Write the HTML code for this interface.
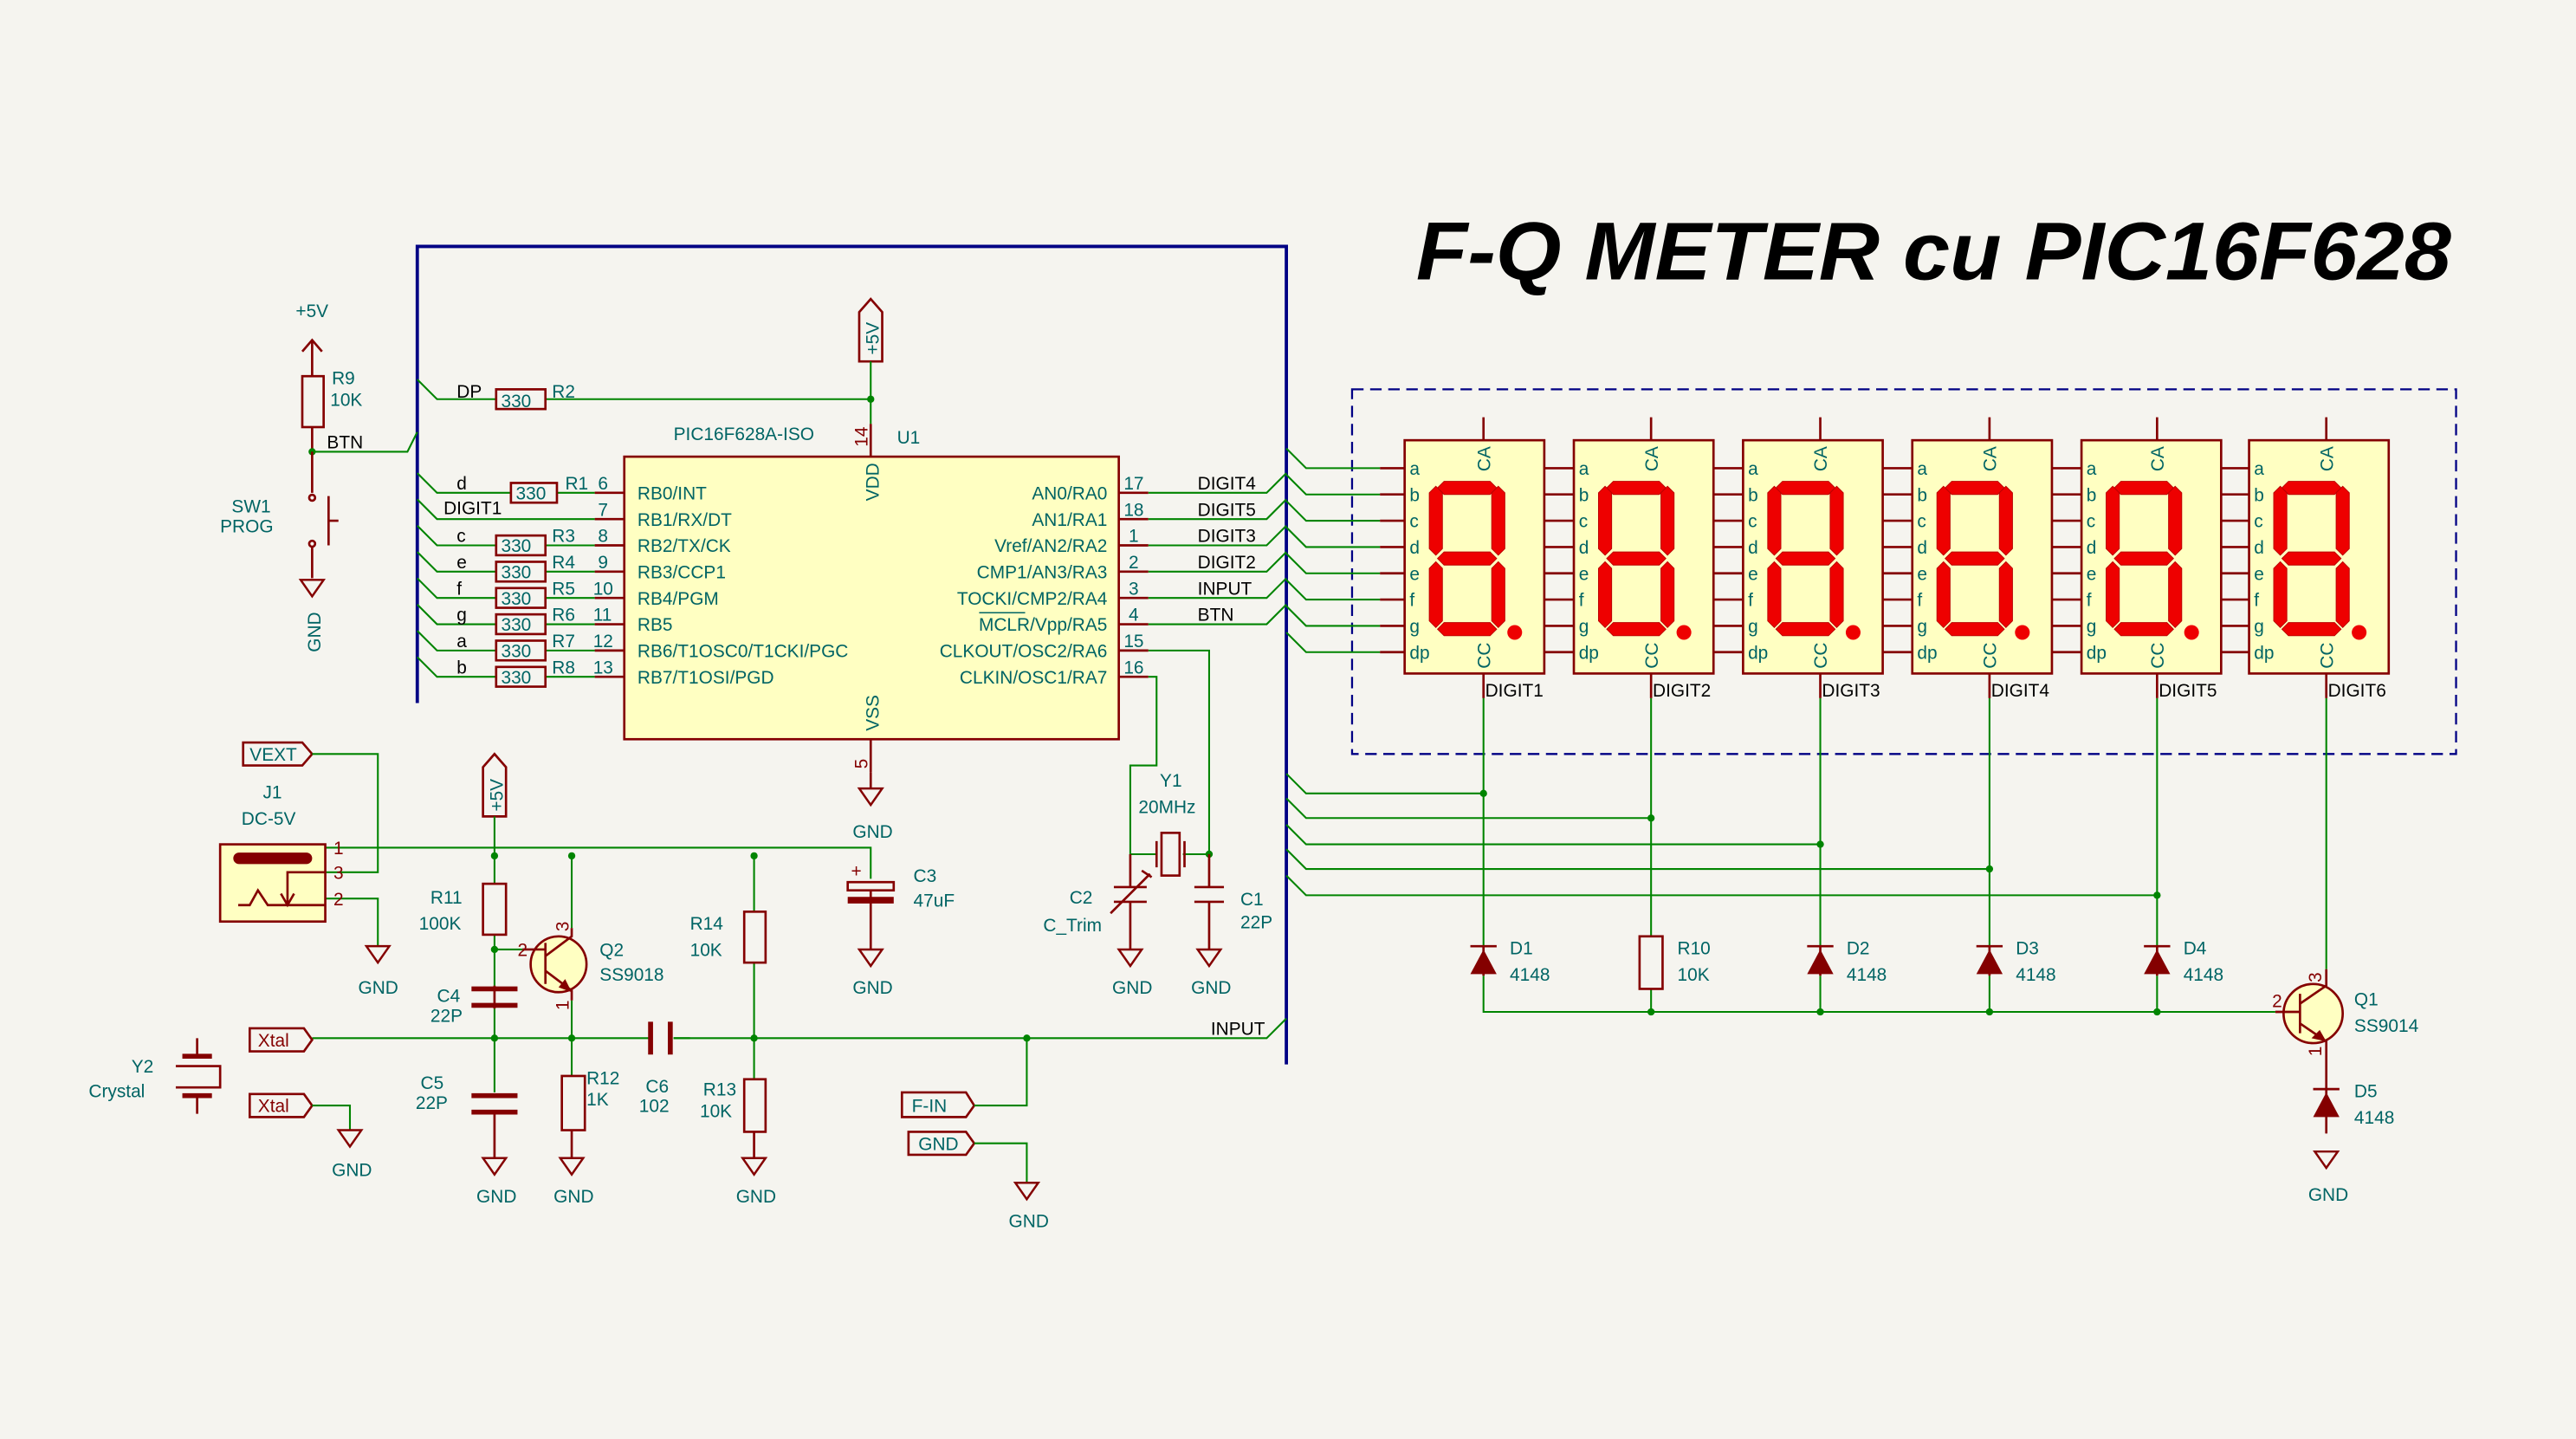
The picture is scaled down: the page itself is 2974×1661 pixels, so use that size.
<!DOCTYPE html>
<html><head><meta charset="utf-8"><style>
html,body{margin:0;padding:0;background:#f5f4ef}
svg{display:block}
text{font-family:"Liberation Sans",sans-serif;font-size:11px;fill:#006464}
.w{stroke:#008400;stroke-width:1.1;fill:none}
.c{stroke:#840000;stroke-width:1.4;fill:none}
.f{stroke:#840000;stroke-width:1.4;fill:#ffffc2}
.r{fill:#840000}
.pn{fill:#840000;font-size:11px}
.j{fill:#008400}
</style></head><body>
<svg width="2974" height="1661" viewBox="0 0 1568 876" preserveAspectRatio="none" xmlns="http://www.w3.org/2000/svg">
<rect width="1568" height="876" fill="#f5f4ef"/>
<defs>
<g id="seg">
<polygon points="20,25 48,25 52,29 48,33 20,33 16,29" fill="#e00" stroke="#b00" stroke-width=".5"/>
<polygon points="20,68 48,68 52,72 48,76 20,76 16,72" fill="#e00" stroke="#b00" stroke-width=".5"/>
<polygon points="20,111 48,111 52,115 48,119 20,119 16,115" fill="#e00" stroke="#b00" stroke-width=".5"/>
<polygon points="11,32 15,28 19,32 19,66 15,70 11,66" fill="#e00" stroke="#b00" stroke-width=".5"/>
<polygon points="49,32 53,28 57,32 57,66 53,70 49,66" fill="#e00" stroke="#b00" stroke-width=".5"/>
<polygon points="11,78 15,74 19,78 19,110 15,114 11,110" fill="#e00" stroke="#b00" stroke-width=".5"/>
<polygon points="49,78 53,74 57,78 57,110 53,114 49,110" fill="#e00" stroke="#b00" stroke-width=".5"/>
<circle cx="63" cy="117" r="4.5" fill="#e00"/>
</g>
<g id="gnd"><polygon points="-7,0 7,0 0,10" fill="none" stroke="#840000" stroke-width="1.3"/></g>
</defs>

<text x="862" y="170" style="font-size:50px;font-weight:bold;font-style:italic;fill:#000" textLength="630" lengthAdjust="spacingAndGlyphs">F-Q METER cu PIC16F628</text>

<path d="M254,428 V150 H783 V648" stroke="#000084" stroke-width="2" fill="none"/>
<rect x="823" y="237" width="672" height="222" fill="none" stroke="#000084" stroke-width="1.2" stroke-dasharray="7,4"/>

<rect x="380" y="278" width="301" height="172" class="f"/>
<path class="c" d="M530,278V258 M530,450V470 M362,300H380 M362,316H380 M362,332H380 M362,348H380 M362,364H380 M362,380H380 M362,396H380 M362,412H380 M681,300H699 M681,316H699 M681,332H699 M681,348H699 M681,364H699 M681,380H699 M681,396H699 M681,412H699"/>
<text x="410" y="268">PIC16F628A-ISO</text><text x="546" y="270">U1</text>
<text class="pn" transform="translate(528,272) rotate(-90)">14</text>
<text class="pn" transform="translate(528,468) rotate(-90)">5</text>
<text transform="translate(535,305) rotate(-90)">VDD</text>
<text transform="translate(535,445) rotate(-90)">VSS</text>
<g>
<text x="388" y="304">RB0/INT</text><text x="388" y="320">RB1/RX/DT</text><text x="388" y="336">RB2/TX/CK</text><text x="388" y="352">RB3/CCP1</text><text x="388" y="368">RB4/PGM</text><text x="388" y="384">RB5</text><text x="388" y="400">RB6/T1OSC0/T1CKI/PGC</text><text x="388" y="416">RB7/T1OSI/PGD</text>
</g>
<g text-anchor="end">
<text x="674" y="304">AN0/RA0</text><text x="674" y="320">AN1/RA1</text><text x="674" y="336">Vref/AN2/RA2</text><text x="674" y="352">CMP1/AN3/RA3</text><text x="674" y="368">TOCKI/CMP2/RA4</text><text x="674" y="384">MCLR/Vpp/RA5</text><text x="674" y="400">CLKOUT/OSC2/RA6</text><text x="674" y="416">CLKIN/OSC1/RA7</text>
</g>
<path d="M596,373H624" stroke="#006464" stroke-width=".8"/>
<g class="pn">
<text x="364" y="298">6</text><text x="364" y="314">7</text><text x="364" y="330">8</text><text x="364" y="346">9</text><text x="361" y="362">10</text><text x="361" y="378">11</text><text x="361" y="394">12</text><text x="361" y="410">13</text>
<text x="684" y="298">17</text><text x="684" y="314">18</text><text x="687" y="330">1</text><text x="687" y="346">2</text><text x="687" y="362">3</text><text x="687" y="378">4</text><text x="684" y="394">15</text><text x="684" y="410">16</text>
</g>

<path class="w" d="M254,288L266,300H311 M339,300H362 M254,304L266,316H362 M254,320L266,332H302 M332,332H362 M254,336L266,348H302 M332,348H362 M254,352L266,364H302 M332,364H362 M254,368L266,380H302 M332,380H362 M254,384L266,396H302 M332,396H362 M254,400L266,412H302 M332,412H362 M254,231L266,243H302 M332,243H530 M530,243V258"/>
<circle cx="530" cy="243" r="2.2" class="j"/>
<g class="c">
<rect x="311" y="294" width="28" height="12"/><rect x="302" y="326" width="30" height="12"/><rect x="302" y="342" width="30" height="12"/><rect x="302" y="358" width="30" height="12"/><rect x="302" y="374" width="30" height="12"/><rect x="302" y="390" width="30" height="12"/><rect x="302" y="406" width="30" height="12"/><rect x="302" y="237" width="30" height="12"/>
</g>
<g>
<text x="314" y="304">330</text><text x="305" y="336">330</text><text x="305" y="352">330</text><text x="305" y="368">330</text><text x="305" y="384">330</text><text x="305" y="400">330</text><text x="305" y="416">330</text><text x="305" y="248">330</text>
<text x="344" y="298">R1</text><text x="336" y="330">R3</text><text x="336" y="346">R4</text><text x="336" y="362">R5</text><text x="336" y="378">R6</text><text x="336" y="394">R7</text><text x="336" y="410">R8</text><text x="336" y="242">R2</text>
</g>
<g>
<text x="278" y="298" style="fill:#000">d</text><text x="270" y="313" style="fill:#000">DIGIT1</text><text x="278" y="330" style="fill:#000">c</text><text x="278" y="346" style="fill:#000">e</text><text x="278" y="362" style="fill:#000">f</text><text x="278" y="378" style="fill:#000">g</text><text x="278" y="394" style="fill:#000">a</text><text x="278" y="410" style="fill:#000">b</text><text x="278" y="242" style="fill:#000">DP</text>
</g>
<path class="c" d="M523,220V190L530,182L537,190V220Z"/>
<text transform="translate(535,216) rotate(-90)">+5V</text>
<path class="w" d="M530,220V243"/>
<use href="#gnd" x="530" y="480"/><path class="c" d="M530,470V480"/><text x="519" y="510">GND</text>

<path class="w" d="M699,300H771L783,288 M699,316H771L783,304 M699,332H771L783,320 M699,348H771L783,336 M699,364H771L783,352 M699,380H771L783,368 M699,396H736V520 M699,412H704V466H688V520 M410,632H771L783,620"/>
<g><text x="729" y="298" style="fill:#000">DIGIT4</text><text x="729" y="314" style="fill:#000">DIGIT5</text><text x="729" y="330" style="fill:#000">DIGIT3</text><text x="729" y="346" style="fill:#000">DIGIT2</text><text x="729" y="362" style="fill:#000">INPUT</text><text x="729" y="378" style="fill:#000">BTN</text><text x="737" y="630" style="fill:#000">INPUT</text></g>

<path class="w" d="M688,520H704 M720,520H736"/>
<circle cx="736" cy="520" r="2.2" class="j"/>
<path class="c" d="M704,512V528 M721,512V528"/><rect x="707" y="507" width="11" height="26" class="c"/>
<text x="706" y="479">Y1</text><text x="693" y="495">20MHz</text>
<path class="c" d="M736,520V540 M727,540H745 M727,549H745 M736,549V578"/><use href="#gnd" x="736" y="578"/><text x="725" y="605">GND</text>
<text x="755" y="551">C1</text><text x="755" y="565">22P</text>
<path class="c" d="M688,520V540 M678,540H698 M678,549H698 M688,549V578 M676,556L700,532 M695,530L701,534"/><use href="#gnd" x="688" y="578"/><text x="677" y="605">GND</text>
<text x="651" y="550">C2</text><text x="635" y="567">C_Trim</text>

<path class="w" d="M783,273L795,285H840 M783,289L795,301H840 M783,305L795,317H840 M783,321L795,333H840 M783,337L795,349H840 M783,353L795,365H840 M783,369L795,381H840 M783,385L795,397H840"/>
<path class="c" d="M840,285H1369 M840,301H1369 M840,317H1369 M840,333H1369 M840,349H1369 M840,365H1369 M840,381H1369 M840,397H1369"/>
<g class="c">
<path d="M903,254V268 M1005,254V268 M1108,254V268 M1211,254V268 M1313,254V268 M1416,254V268 M903,410V425 M1005,410V425 M1108,410V425 M1211,410V425 M1313,410V425 M1416,410V425"/>
</g>
<g>
<rect x="855" y="268" width="85" height="142" class="f"/><use href="#seg" x="859" y="268"/>
<rect x="958" y="268" width="85" height="142" class="f"/><use href="#seg" x="962" y="268"/>
<rect x="1061" y="268" width="85" height="142" class="f"/><use href="#seg" x="1065" y="268"/>
<rect x="1164" y="268" width="85" height="142" class="f"/><use href="#seg" x="1168" y="268"/>
<rect x="1267" y="268" width="85" height="142" class="f"/><use href="#seg" x="1271" y="268"/>
<rect x="1369" y="268" width="85" height="142" class="f"/><use href="#seg" x="1373" y="268"/>
</g>
<g style="font-size:10px">
<text x="858" y="289">a</text><text x="858" y="305">b</text><text x="858" y="321">c</text><text x="858" y="337">d</text><text x="858" y="353">e</text><text x="858" y="369">f</text><text x="858" y="385">g</text><text x="858" y="401">dp</text>
<text x="961" y="289">a</text><text x="961" y="305">b</text><text x="961" y="321">c</text><text x="961" y="337">d</text><text x="961" y="353">e</text><text x="961" y="369">f</text><text x="961" y="385">g</text><text x="961" y="401">dp</text>
<text x="1064" y="289">a</text><text x="1064" y="305">b</text><text x="1064" y="321">c</text><text x="1064" y="337">d</text><text x="1064" y="353">e</text><text x="1064" y="369">f</text><text x="1064" y="385">g</text><text x="1064" y="401">dp</text>
<text x="1167" y="289">a</text><text x="1167" y="305">b</text><text x="1167" y="321">c</text><text x="1167" y="337">d</text><text x="1167" y="353">e</text><text x="1167" y="369">f</text><text x="1167" y="385">g</text><text x="1167" y="401">dp</text>
<text x="1270" y="289">a</text><text x="1270" y="305">b</text><text x="1270" y="321">c</text><text x="1270" y="337">d</text><text x="1270" y="353">e</text><text x="1270" y="369">f</text><text x="1270" y="385">g</text><text x="1270" y="401">dp</text>
<text x="1372" y="289">a</text><text x="1372" y="305">b</text><text x="1372" y="321">c</text><text x="1372" y="337">d</text><text x="1372" y="353">e</text><text x="1372" y="369">f</text><text x="1372" y="385">g</text><text x="1372" y="401">dp</text>
<text transform="translate(907,287) rotate(-90)">CA</text><text transform="translate(907,407) rotate(-90)">CC</text>
<text transform="translate(1009,287) rotate(-90)">CA</text><text transform="translate(1009,407) rotate(-90)">CC</text>
<text transform="translate(1112,287) rotate(-90)">CA</text><text transform="translate(1112,407) rotate(-90)">CC</text>
<text transform="translate(1215,287) rotate(-90)">CA</text><text transform="translate(1215,407) rotate(-90)">CC</text>
<text transform="translate(1317,287) rotate(-90)">CA</text><text transform="translate(1317,407) rotate(-90)">CC</text>
<text transform="translate(1420,287) rotate(-90)">CA</text><text transform="translate(1420,407) rotate(-90)">CC</text>
</g>
<g><text x="904" y="424" style="fill:#000">DIGIT1</text><text x="1006" y="424" style="fill:#000">DIGIT2</text><text x="1109" y="424" style="fill:#000">DIGIT3</text><text x="1212" y="424" style="fill:#000">DIGIT4</text><text x="1314" y="424" style="fill:#000">DIGIT5</text><text x="1417" y="424" style="fill:#000">DIGIT6</text></g>

<path class="w" d="M903,425V576 M1005,425V570 M1108,425V576 M1211,425V576 M1313,425V576 M1416,425V590 M783,471L795,483H903 M783,486L795,498H1005 M783,502L795,514H1108 M783,517L795,529H1211 M783,533L795,545H1313 M903,594V616H1385 M1005,602V616 M1108,594V616 M1211,594V616 M1313,594V616"/>
<g class="j"><circle cx="903" cy="483" r="2.2"/><circle cx="1005" cy="498" r="2.2"/><circle cx="1108" cy="514" r="2.2"/><circle cx="1211" cy="529" r="2.2"/><circle cx="1313" cy="545" r="2.2"/><circle cx="1005" cy="616" r="2.2"/><circle cx="1108" cy="616" r="2.2"/><circle cx="1211" cy="616" r="2.2"/><circle cx="1313" cy="616" r="2.2"/></g>
<g>
<path class="c" d="M903,576V594 M895,576H911"/><polygon points="895,593 911,593 903,578" class="r"/>
<path class="c" d="M1108,576V594 M1100,576H1116"/><polygon points="1100,593 1116,593 1108,578" class="r"/>
<path class="c" d="M1211,576V594 M1203,576H1219"/><polygon points="1203,593 1219,593 1211,578" class="r"/>
<path class="c" d="M1313,576V594 M1305,576H1321"/><polygon points="1305,593 1321,593 1313,578" class="r"/>
<rect x="998" y="570" width="14" height="32" class="c"/>
</g>
<text x="919" y="581">D1</text><text x="919" y="597">4148</text>
<text x="1021" y="581">R10</text><text x="1021" y="597">10K</text>
<text x="1124" y="581">D2</text><text x="1124" y="597">4148</text>
<text x="1227" y="581">D3</text><text x="1227" y="597">4148</text>
<text x="1329" y="581">D4</text><text x="1329" y="597">4148</text>
<circle cx="1408" cy="617" r="18" class="f"/>
<path class="c" d="M1385,616H1400 M1400,605V629 M1400,611L1416,600V590 M1400,623L1416,634V655"/>
<polygon points="1416,634 1407,632 1412,627" class="r"/>
<text class="pn" x="1383" y="613">2</text><text class="pn" transform="translate(1413,598) rotate(-90)">3</text><text class="pn" transform="translate(1413,643) rotate(-90)">1</text>
<text x="1433" y="612">Q1</text><text x="1433" y="628">SS9014</text>
<path class="c" d="M1416,655V690 M1408,663H1424"/><polygon points="1408,680 1424,680 1416,665" class="r"/>
<text x="1433" y="668">D5</text><text x="1433" y="684">4148</text>
<use href="#gnd" x="1416" y="701"/><text x="1405" y="731">GND</text>

<path class="c" d="M190,208V229 M184,214L190,207L196,214 M190,260V275"/>
<rect x="184" y="229" width="13" height="31" class="c"/>
<text x="180" y="193">+5V</text><text x="202" y="234">R9</text><text x="201" y="247">10K</text>
<path class="w" d="M190,275H248L254,263"/>
<circle cx="190" cy="275" r="2.2" class="j"/>
<text x="199" y="273" style="fill:#000">BTN</text>
<path class="c" d="M190,275V300 M190,333V352 M200,302V332 M200,317H206"/>
<circle cx="190" cy="303" r="1.8" class="c"/><circle cx="190" cy="331" r="1.8" class="c"/>
<text x="141" y="312">SW1</text><text x="134" y="324">PROG</text>
<use href="#gnd" x="190" y="353"/><text transform="translate(195,397) rotate(-90)">GND</text>

<path class="c" d="M148,452H184L190,459L184,466H148Z"/><text x="152" y="463">VEXT</text>
<path class="w" d="M190,459H230V531H198 M198,547H230V576 M198,516H530V535"/>
<rect x="134" y="514" width="64" height="47" class="f"/>
<rect x="142" y="519" width="48" height="7" rx="3.5" class="r"/>
<path class="c" d="M198,531H175V550 M171,544L175,551L179,544 M145,551H152L157,542L163,551H198"/>
<text class="pn" x="203" y="520">1</text><text class="pn" x="203" y="535">3</text><text class="pn" x="203" y="551">2</text>
<text x="160" y="486">J1</text><text x="147" y="502">DC-5V</text>
<use href="#gnd" x="230" y="576"/><text x="218" y="605">GND</text>

<path class="c" d="M294,497V467L301,459L308,467V497Z"/>
<text transform="translate(306,494) rotate(-90)">+5V</text>
<path class="w" d="M301,497V538 M301,569V600 M301,614V665 M301,578H318 M348,521V565 M348,609V655 M459,521V555 M459,586V657"/>
<g class="j"><circle cx="301" cy="521" r="2.2"/><circle cx="348" cy="521" r="2.2"/><circle cx="459" cy="521" r="2.2"/><circle cx="301" cy="578" r="2.2"/><circle cx="301" cy="632" r="2.2"/><circle cx="348" cy="632" r="2.2"/><circle cx="459" cy="632" r="2.2"/><circle cx="625" cy="632" r="2.2"/></g>
<path class="w" d="M190,632H396"/>
<rect x="294" y="538" width="14" height="31" class="c"/>
<text x="262" y="550">R11</text><text x="255" y="566">100K</text>
<path d="M287,602H315 M287,612H315 M287,667H315 M287,677H315" stroke="#840000" stroke-width="3" fill="none"/>
<path class="c" d="M301,677V705 M301,600V614"/>
<text x="266" y="610">C4</text><text x="262" y="622">22P</text><text x="256" y="663">C5</text><text x="253" y="675">22P</text>
<use href="#gnd" x="301" y="705"/><text x="290" y="732">GND</text>
<circle cx="340" cy="587" r="17" class="f"/>
<path class="c" d="M318,578H332 M332,574V599 M332,582L348,570V565 M332,591L348,603V609"/>
<polygon points="348,604 340,601 344,596" class="r"/>
<text class="pn" x="315" y="582">2</text><text class="pn" transform="translate(346,567) rotate(-90)">3</text><text class="pn" transform="translate(346,615) rotate(-90)">1</text>
<text x="365" y="582">Q2</text><text x="365" y="597">SS9018</text>
<rect x="342" y="655" width="14" height="33" class="c"/><path class="c" d="M348,688V705"/>
<text x="357" y="660">R12</text><text x="357" y="673">1K</text>
<use href="#gnd" x="348" y="705"/><text x="337" y="732">GND</text>
<path d="M396,622V642 M408,622V642" stroke="#840000" stroke-width="3"/>
<path class="w" d="M410,632H420"/>
<text x="393" y="665">C6</text><text x="389" y="677">102</text>
<rect x="453" y="555" width="13" height="31" class="c"/>
<text x="420" y="566">R14</text><text x="420" y="582">10K</text>
<rect x="453" y="657" width="13" height="32" class="c"/><path class="c" d="M459,689V705"/>
<text x="428" y="667">R13</text><text x="426" y="680">10K</text>
<use href="#gnd" x="459" y="705"/><text x="448" y="732">GND</text>
<rect x="516" y="537" width="28" height="5" class="c"/>
<path class="c" d="M530,542V578"/><path d="M516,548H544" stroke="#840000" stroke-width="4"/>
<text x="518" y="534" style="fill:#840000">+</text>
<text x="556" y="537">C3</text><text x="556" y="552">47uF</text>
<use href="#gnd" x="530" y="578"/><text x="519" y="605">GND</text>
<path class="c" d="M152,626H185L190,633L185,640H152Z"/><text x="157" y="637" style="fill:#840000">Xtal</text>
<path class="c" d="M152,666H185L190,673L185,680H152Z"/><text x="157" y="677" style="fill:#840000">Xtal</text>
<path class="w" d="M190,673H213V688"/><use href="#gnd" x="213" y="688"/><text x="202" y="716">GND</text>
<path class="c" d="M120,632V642 M120,667V678 M107,649H134V662H107"/>
<path d="M111,643H129 M111,667H129" stroke="#840000" stroke-width="3"/>
<text x="80" y="653">Y2</text><text x="54" y="668">Crystal</text>
<path class="c" d="M549,665H588L593,673L588,680H549Z"/><text x="555" y="677">F-IN</text>
<path class="c" d="M553,689H588L593,696L588,703H553Z"/><text x="559" y="700">GND</text>
<path class="w" d="M593,673H625V632 M593,696H625V720"/>
<use href="#gnd" x="625" y="720"/><text x="614" y="747">GND</text>
</svg>
</body></html>
